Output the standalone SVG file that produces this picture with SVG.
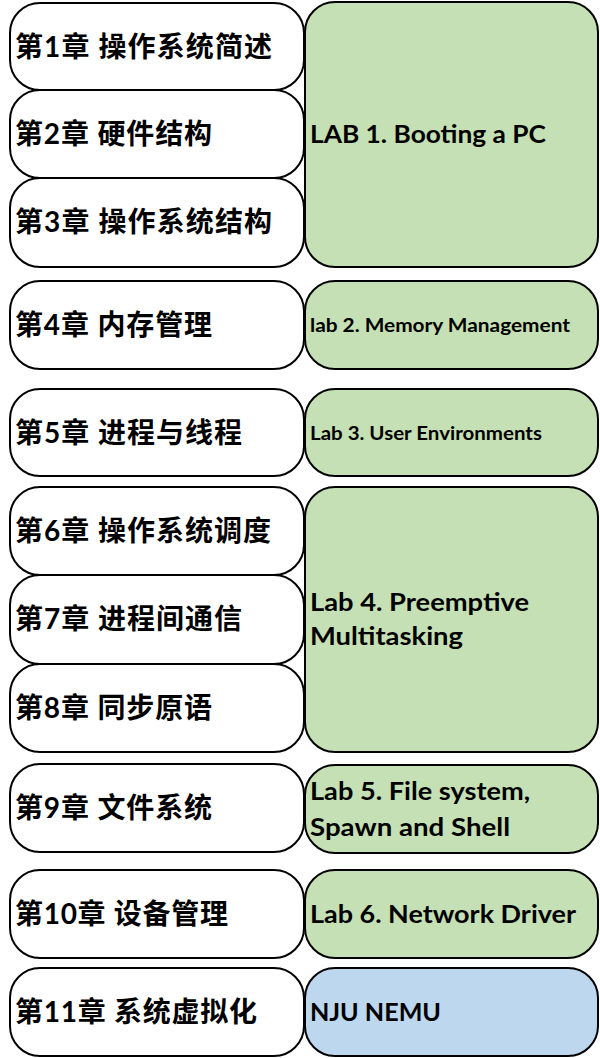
<svg xmlns="http://www.w3.org/2000/svg" width="600" height="1058" viewBox="0 0 600 1058">
<style>
.l{fill:#fff;stroke:#000;stroke-width:2}
.g{fill:#c5e0b4;stroke:#000;stroke-width:2}
.b{fill:#bdd7ee;stroke:#000;stroke-width:2}
.c{font-family:Lato,"Noto Sans CJK SC",sans-serif;font-size:28px;font-weight:bold;fill:#000}
.e{font-family:Lato,"Open Sans",sans-serif;font-weight:bold;fill:#000}
</style>
<rect width="600" height="1058" fill="#fff"/>
<g id="lab1"><rect class="g" x="305" y="2" width="293" height="265" rx="30"/><text class="e" x="310" y="143" font-size="25" textLength="236" lengthAdjust="spacingAndGlyphs">LAB 1. Booting a PC</text></g>
<g id="lab2"><rect class="g" x="305" y="281" width="293" height="88" rx="30"/><text class="e" x="310" y="332" font-size="18" textLength="260" lengthAdjust="spacingAndGlyphs">lab 2. Memory Management</text></g>
<g id="lab3"><rect class="g" x="305" y="389" width="293" height="87" rx="30"/><text class="e" x="310" y="440" font-size="18" textLength="232" lengthAdjust="spacingAndGlyphs">Lab 3. User Environments</text></g>
<g id="lab4"><rect class="g" x="305" y="487" width="293" height="265" rx="30"/><text class="e" x="310" y="611" font-size="25" textLength="219" lengthAdjust="spacingAndGlyphs">Lab 4. Preemptive</text><text class="e" x="310" y="645" font-size="25" textLength="153" lengthAdjust="spacingAndGlyphs">Multitasking</text></g>
<g id="lab5"><rect class="g" x="305" y="765" width="293" height="88" rx="30"/><text class="e" x="310" y="800" font-size="25" textLength="220" lengthAdjust="spacingAndGlyphs">Lab 5. File system,</text><text class="e" x="310" y="836" font-size="25" textLength="200" lengthAdjust="spacingAndGlyphs">Spawn and Shell</text></g>
<g id="lab6"><rect class="g" x="305" y="870" width="293" height="88" rx="30"/><text class="e" x="310" y="923" font-size="25" textLength="266" lengthAdjust="spacingAndGlyphs">Lab 6. Network Driver</text></g>
<g id="nemu"><rect class="b" x="305" y="968" width="293" height="88" rx="30"/><text class="e" x="310" y="1021" font-size="25" textLength="131" lengthAdjust="spacingAndGlyphs">NJU NEMU</text></g>
<g id="ch1"><rect class="l" x="10" y="3" width="294" height="87" rx="30"/><text class="c" x="15" y="57" textLength="257">第1章 操作系统简述</text></g>
<g id="ch2"><rect class="l" x="10" y="90" width="294" height="88" rx="30"/><text class="c" x="15" y="144" textLength="197">第2章 硬件结构</text></g>
<g id="ch3"><rect class="l" x="10" y="178" width="294" height="89" rx="30"/><text class="c" x="15" y="232" textLength="257">第3章 操作系统结构</text></g>
<g id="ch4"><rect class="l" x="10" y="281" width="294" height="88" rx="30"/><text class="c" x="15" y="335" textLength="197">第4章 内存管理</text></g>
<g id="ch5"><rect class="l" x="10" y="389" width="294" height="87" rx="30"/><text class="c" x="15" y="443" textLength="227">第5章 进程与线程</text></g>
<g id="ch6"><rect class="l" x="10" y="487" width="294" height="88" rx="30"/><text class="c" x="15" y="541" textLength="256">第6章 操作系统调度</text></g>
<g id="ch7"><rect class="l" x="10" y="575" width="294" height="89" rx="30"/><text class="c" x="15" y="629" textLength="227">第7章 进程间通信</text></g>
<g id="ch8"><rect class="l" x="10" y="664" width="294" height="88" rx="30"/><text class="c" x="15" y="718" textLength="197">第8章 同步原语</text></g>
<g id="ch9"><rect class="l" x="10" y="764" width="294" height="88" rx="30"/><text class="c" x="15" y="818" textLength="197">第9章 文件系统</text></g>
<g id="ch10"><rect class="l" x="10" y="870" width="294" height="88" rx="30"/><text class="c" x="15" y="924" textLength="213">第10章 设备管理</text></g>
<g id="ch11"><rect class="l" x="10" y="968" width="294" height="88" rx="30"/><text class="c" x="15" y="1022" textLength="242">第11章 系统虚拟化</text></g>
<g id="connectors"/>
</svg>
